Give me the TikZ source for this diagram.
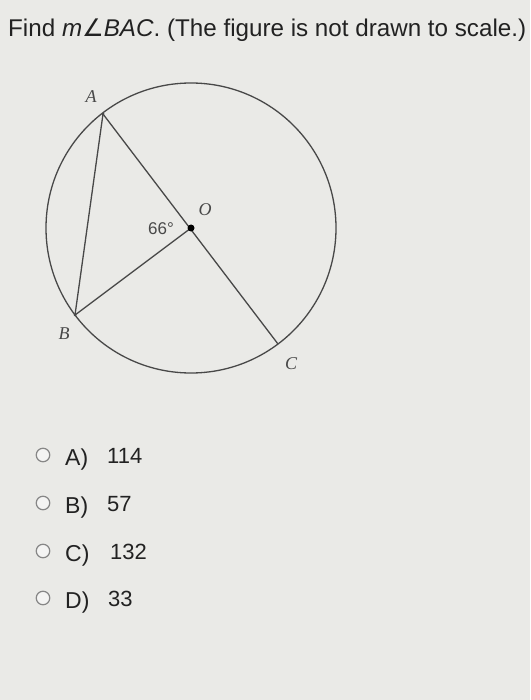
\documentclass[tikz,border=0pt]{standalone}
\usepackage{fontspec}
\setmainfont{Liberation Sans}
\newfontfamily\dejavu{DejaVu Sans}
\newfontfamily\lserif{Liberation Serif}
\definecolor{bg}{RGB}{234,234,231}
\definecolor{ink}{RGB}{34,34,34}
\definecolor{geo}{RGB}{72,72,72}
\definecolor{radio}{RGB}{135,135,135}
\tikzset{
  geoline/.style={draw=geo, line width=1.3pt},
  ptlabel/.style={font=\lserif\itshape\fontsize{18}{18}\selectfont, text=geo, inner sep=0pt},
  choiceletter/.style={font=\fontsize{23}{23}\selectfont, text=ink, inner sep=0pt, anchor=base west},
  choicenum/.style={font=\fontsize{22}{22}\selectfont, text=ink, inner sep=0pt, anchor=base west},
  radiobtn/.style={circle, draw=radio, line width=1.2pt, fill=bg!50!white, minimum size=13.5pt, inner sep=0pt},
}
\begin{document}
\begin{tikzpicture}[x=1pt,y=-1pt]
\fill[bg] (0,0) rectangle (530,700);
\useasboundingbox (0,0) rectangle (530,700);
% title
\node[anchor=base west, inner sep=0pt, text=ink, font=\fontsize{24.2}{24.2}\selectfont] (title) at (8,37)
  {Find \textit{m}{\dejavu\itshape ∠}\textit{BAC}. (The figure is not drawn to scale.)};
% figure
\coordinate (O) at (191,228);
\coordinate (A) at (103,114);
\coordinate (B) at (75,315);
\coordinate (C) at (278,344);
\draw[geoline] (O) circle[radius=145pt];
\draw[geoline] (A) -- (C);
\draw[geoline] (A) -- (B);
\draw[geoline] (B) -- (O);
\fill[black] (O) circle[radius=3.5pt];
\fill[geo] (A) circle[radius=1.5pt];
\fill[geo] (B) circle[radius=1.5pt];
\node[ptlabel] (lA) at (91,97) {A};
\node[ptlabel] (lB) at (64,334) {B};
\node[ptlabel] (lC) at (291,364) {C};
\node[ptlabel] (lO) at (205,210) {O};
\node[inner sep=0pt, text=geo, font=\fontsize{17}{17}\selectfont] (ang) at (161,229) {66°};
% choices
\node[radiobtn] (r1) at (43,455) {};
\node[radiobtn] (r2) at (43,503) {};
\node[radiobtn] (r3) at (43,551) {};
\node[radiobtn] (r4) at (43,598) {};
\node[choiceletter] (a1) at (65,465) {A)};
\node[choiceletter] (b1) at (65,513) {B)};
\node[choiceletter] (c1) at (65,561) {C)};
\node[choiceletter] (d1) at (65,608) {D)};
\node[choicenum] (a2) at (107,463.5) {114};
\node[choicenum] (b2) at (107,511.5) {57};
\node[choicenum] (c2) at (110,559.5) {132};
\node[choicenum] (d2) at (108,606.5) {33};
\end{tikzpicture}
\end{document}
